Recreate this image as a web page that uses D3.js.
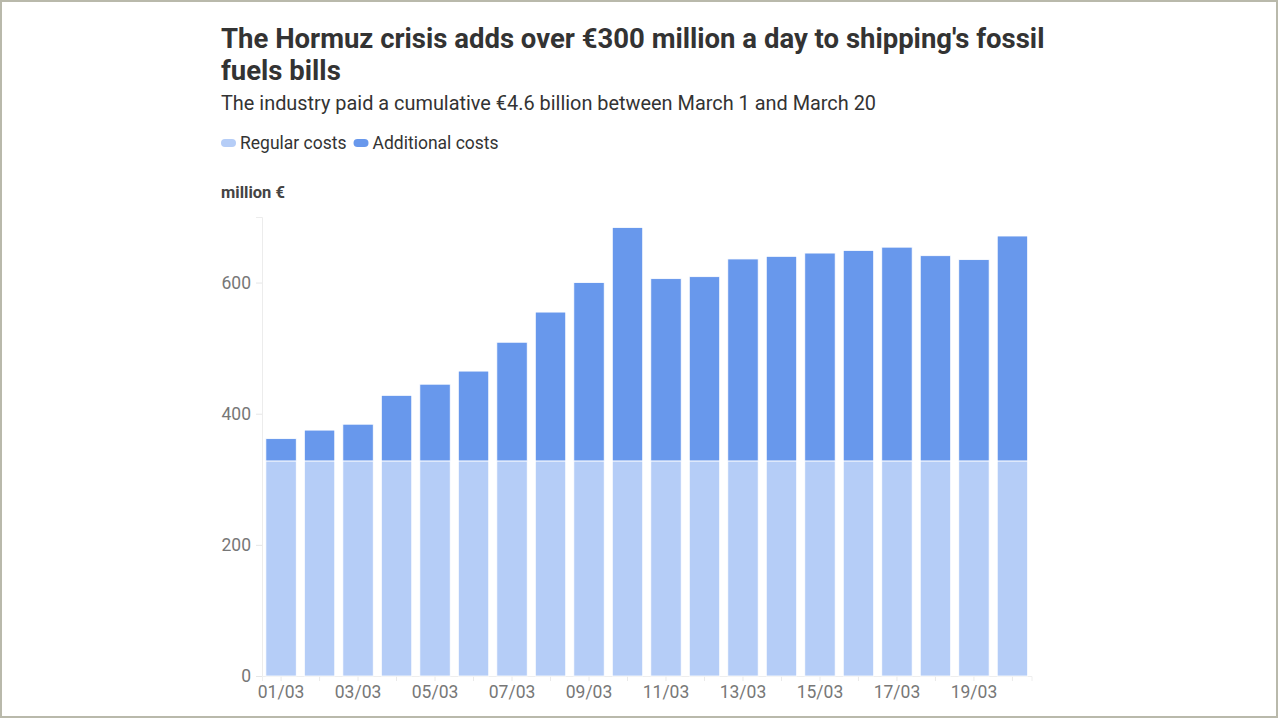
<!DOCTYPE html>
<html>
<head>
<meta charset="utf-8">
<script src="https://cdn.jsdelivr.net/npm/d3@7"></script>
<style>
  html, body { margin: 0; padding: 0; background: #fff; }
  svg { display: block; }
</style>
</head>
<body>
<svg id="chart" width="1280" height="720"></svg>
<script>
const categories = ["01/03","02/03","03/03","04/03","05/03","06/03","07/03","08/03","09/03","10/03",
                    "11/03","12/03","13/03","14/03","15/03","16/03","17/03","18/03","19/03","20/03"];
const regularCosts = [328,328,328,328,328,328,328,328,328,328,328,328,328,328,328,328,328,328,328,328];
const additionalCosts = [34,47,56,100,117,137,181,227,272,356,278,281,308,312,317,321,326,313,307,343];
const yTicks = [0,200,400,600];
const seriesNames = ["Regular costs","Additional costs"];
const seriesColors = ["#b5cdf7","#6898ec"];

const svg = d3.select("#chart");
const font = "Roboto, 'Noto Sans', Arial, sans-serif";

// frame border
svg.append("rect").attr("x",1).attr("y",1).attr("width",1276).attr("height",716)
  .attr("fill","#fff").attr("stroke","#b9b9ab").attr("stroke-width",2);

// title
const title = svg.append("text").attr("x",221).attr("font-family",font)
  .attr("font-size",27.5).attr("font-weight",700).attr("fill","#333");
title.append("tspan").attr("x",221).attr("y",48).text("The Hormuz crisis adds over €300 million a day to shipping's fossil");
title.append("tspan").attr("x",221).attr("y",80).text("fuels bills");

svg.append("text").attr("x",221).attr("y",110).attr("font-family",font)
  .attr("font-size",19.9).attr("fill","#333")
  .text("The industry paid a cumulative €4.6 billion between March 1 and March 20");

// legend
let lx = 221;
seriesNames.forEach((name,i) => {
  svg.append("rect").attr("x",lx).attr("y",139).attr("width",15).attr("height",8).attr("rx",4)
    .attr("fill",seriesColors[i]);
  const t = svg.append("text").attr("x",lx+19).attr("y",149).attr("font-family",font)
    .attr("font-size",17.5).attr("fill","#333").text(name);
  lx += 19 + t.node().getComputedTextLength() + 7;
});

svg.append("text").attr("x",221).attr("y",198).attr("font-family",font)
  .attr("font-size",16.5).attr("font-weight",700).attr("fill","#444").text("million €");

// scales
const x = d3.scaleBand().domain(categories).range([262,1031.5]).paddingInner(0.21).paddingOuter(0.1);
const y = d3.scaleLinear().domain([0,700]).range([676,217]);

// axes
const yAxis = svg.append("g").attr("transform","translate(262,0)")
  .call(d3.axisLeft(y).tickValues(yTicks).tickSize(6).tickPadding(5));
yAxis.select(".domain").attr("stroke","#ececec");
yAxis.selectAll(".tick line").attr("stroke","#e6e6e6");
yAxis.selectAll(".tick text").attr("font-family",font).attr("font-size",17.5).attr("fill","#777");

const xAxis = svg.append("g").attr("transform","translate(0,676)")
  .call(d3.axisBottom(x).tickSize(5).tickPadding(5)
    .tickFormat((d,i) => i % 2 === 0 ? d : ""));
xAxis.select(".domain").attr("stroke","#eeeeee");
xAxis.selectAll(".tick line").attr("stroke","#eaeaea");
xAxis.selectAll(".tick text").attr("font-family",font).attr("font-size",17.5).attr("fill","#777");

// stacked bars
const rows = categories.map((c,i) => ({cat:c, regular:regularCosts[i], additional:additionalCosts[i]}));
const stack = d3.stack().keys(["regular","additional"])(rows);
svg.append("g").selectAll("g").data(stack).join("g")
  .attr("fill",(d,i) => seriesColors[i])
  .selectAll("rect").data(d => d).join("rect")
  .attr("x", d => x(d.data.cat))
  .attr("width", x.bandwidth())
  .attr("y", d => y(d[1]))
  .attr("height", d => y(d[0]) - y(d[1]))
  .attr("stroke","#fff").attr("stroke-width",0.8);
</script>
</body>
</html>
